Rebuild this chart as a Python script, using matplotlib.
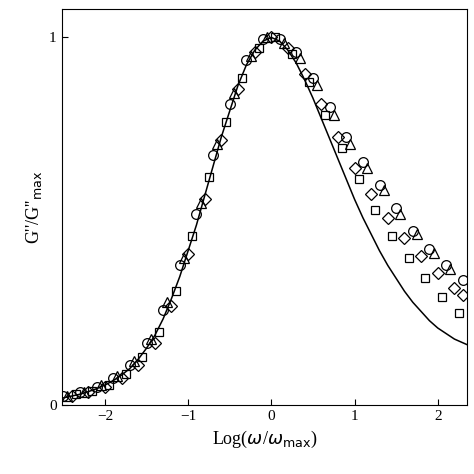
import matplotlib.pyplot as plt

plt.rcParams['font.family'] = ['Liberation Serif', 'DejaVu Serif']

# fitted curve
line_x = [-2.5, -2.4, -2.3, -2.2, -2.1, -2.0, -1.9, -1.8, -1.7, -1.6, -1.5, -1.4, -1.3, -1.2, -1.1,
          -1.0, -0.9, -0.8, -0.7, -0.6, -0.5, -0.4, -0.3, -0.2, -0.1, 0.0, 0.1, 0.2, 0.3, 0.4,
          0.5, 0.6, 0.7, 0.8, 0.9, 1.0, 1.1, 1.2, 1.3, 1.4, 1.5, 1.6, 1.7, 1.8, 1.9, 2.0, 2.1,
          2.2, 2.3, 2.35]
line_y = [0.02, 0.025, 0.03, 0.037, 0.045, 0.055, 0.067, 0.082, 0.10, 0.125, 0.155, 0.19, 0.235,
          0.29, 0.35, 0.42, 0.49, 0.57, 0.65, 0.73, 0.80, 0.87, 0.925, 0.965, 0.99, 1.0, 0.99,
          0.965, 0.93, 0.885, 0.835, 0.78, 0.725, 0.67, 0.615, 0.56, 0.51, 0.465, 0.42, 0.38,
          0.345, 0.31, 0.28, 0.255, 0.23, 0.21, 0.195, 0.18, 0.17, 0.19]
line_y[-1] = 0.165

circ_x = [-2.5, -2.3, -2.1, -1.9, -1.7, -1.5, -1.3, -1.1, -0.9, -0.7, -0.5, -0.3, -0.1,
          0.1, 0.3, 0.5, 0.7, 0.9, 1.1, 1.3, 1.5, 1.7, 1.9, 2.1, 2.3]
circ_y = [0.025, 0.035, 0.05, 0.075, 0.11, 0.17, 0.26, 0.38, 0.52, 0.68, 0.82, 0.94, 0.995,
          0.995, 0.96, 0.89, 0.81, 0.73, 0.66, 0.60, 0.535, 0.475, 0.425, 0.38, 0.34]

tri_x = [-2.45, -2.25, -2.05, -1.85, -1.65, -1.45, -1.25, -1.05, -0.85, -0.65, -0.45, -0.25,
         -0.05, 0.15, 0.35, 0.55, 0.75, 0.95, 1.15, 1.35, 1.55, 1.75, 1.95, 2.15]
tri_y = [0.025, 0.035, 0.055, 0.08, 0.12, 0.18, 0.28, 0.40, 0.55, 0.71, 0.85, 0.95, 1.0,
         0.985, 0.945, 0.87, 0.79, 0.71, 0.645, 0.585, 0.52, 0.465, 0.415, 0.37]

dia_x = [-2.4, -2.2, -2.0, -1.8, -1.6, -1.4, -1.2, -1.0, -0.8, -0.6, -0.4, -0.2, 0.0,
         0.2, 0.4, 0.6, 0.8, 1.0, 1.2, 1.4, 1.6, 1.8, 2.0, 2.2, 2.3]
dia_y = [0.025, 0.035, 0.05, 0.075, 0.11, 0.17, 0.27, 0.41, 0.56, 0.72, 0.86, 0.96, 1.0,
         0.97, 0.90, 0.82, 0.73, 0.645, 0.575, 0.51, 0.455, 0.405, 0.36, 0.32, 0.30]

sq_x = [-2.35, -2.15, -1.95, -1.75, -1.55, -1.35, -1.15, -0.95, -0.75, -0.55, -0.35, -0.15,
        0.05, 0.25, 0.45, 0.65, 0.85, 1.05, 1.25, 1.45, 1.65, 1.85, 2.05, 2.25]
sq_y = [0.03, 0.04, 0.055, 0.085, 0.13, 0.20, 0.31, 0.46, 0.62, 0.77, 0.89, 0.97, 1.0,
        0.955, 0.88, 0.79, 0.70, 0.615, 0.53, 0.46, 0.40, 0.345, 0.295, 0.25]

fig, ax = plt.subplots(figsize=[4.74, 4.74], dpi=100)
ax.plot(line_x, line_y, color='black', lw=1.1)
mk = dict(ls='none', mfc='none', mec='black', mew=0.9, ms=7)
ax.plot(circ_x, circ_y, marker='o', **mk)
ax.plot(tri_x, tri_y, marker='^', **mk)
ax.plot(dia_x, dia_y, marker='D', **dict(mk, ms=6))
ax.plot(sq_x, sq_y, marker='s', **dict(mk, ms=6))

ax.set_xlim(-2.52, 2.35)
ax.set_ylim(0, 1.076)
ax.set_xticks([-2, -1, 0, 1, 2])
ax.set_yticks([0, 1])
ax.tick_params(direction='in', labelsize=11, length=4)
ax.set_xlabel(r'Log($\omega$/$\omega_{\rm max}$)', fontsize=13)
ax.set_ylabel(r"G''/G''$_{\rm max}$", fontsize=13)

plt.subplots_adjust(left=0.13, right=0.985, top=0.98, bottom=0.145)
plt.savefig('out.png')
